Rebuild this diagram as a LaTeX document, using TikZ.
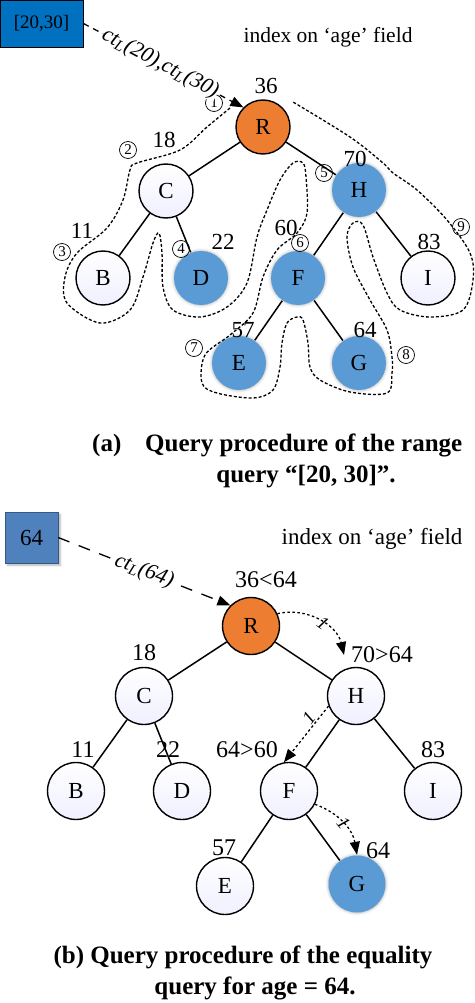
\documentclass[tikz,border=0pt]{standalone}
\usepackage{fontspec}
\setmainfont{Liberation Serif}
\usetikzlibrary{arrows.meta,shadows.blur}

\definecolor{laranja}{RGB}{237,125,49}
\definecolor{azulno}{RGB}{91,155,213}
\definecolor{azulcaixa}{RGB}{0,112,192}
\definecolor{azulcaixab}{RGB}{79,129,189}

\tikzset{
    nobase/.style={circle, draw, line width=1.4pt, minimum size=54pt, inner sep=0pt,
        font=\fontsize{23}{25}\selectfont},
    no/.style={nobase, top color=white, bottom color=blue!6!white},
    noazul/.style={nobase, draw=none, fill=azulno, blur shadow={shadow xshift=0pt,
        shadow yshift=0pt, shadow blur radius=3pt, shadow opacity=35}},
    noraiz/.style={nobase, fill=laranja},
    aresta/.style={line width=1.5pt},
    rotulo/.style={font=\fontsize{23}{25}\selectfont, inner sep=0pt},
    passo/.style={circle, draw, line width=0.7pt, minimum size=17pt, inner sep=0pt,
        font=\fontsize{15}{15}\selectfont},
    legenda/.style={font=\bfseries\fontsize{25}{28}\selectfont, inner sep=0pt},
    tour/.style={line width=1.3pt, dash pattern=on 3pt off 2pt},
    busca/.style={line width=1.3pt, dash pattern=on 2.5pt off 2.5pt, -{Triangle[length=13pt,width=10pt]}},
    peso/.style={font=\itshape\fontsize{19}{20}\selectfont, inner sep=1pt}
}

\begin{document}
\begin{tikzpicture}[x=1pt, y=-1pt]

    \useasboundingbox (0,0) rectangle (474,1003);

    % 1. Parte (a): consulta por intervalo [20,30]
    \node[draw, thick, fill=azulcaixa, minimum width=83pt, minimum height=47pt,
        inner sep=0pt, font=\fontsize{19}{20}\selectfont] (qa) at (41.5,23.5) {[20,30]};
    \node[font=\fontsize{21.5}{22}\selectfont] (idxa) at (328,37) {index on ‘age’ field};

    \node[noraiz] (Ra) at (263,127) {R};
    \node[no] (Ca) at (166,191) {C};
    \node[noazul] (Ha) at (359,190) {H};
    \node[no] (Ba) at (103,278) {B};
    \node[noazul] (Da) at (201,278) {D};
    \node[noazul] (Fa) at (298,278) {F};
    \node[no] (Ia) at (428,278) {I};
    \node[noazul] (Ea) at (239,363) {E};
    \node[noazul] (Ga) at (359,363) {G};

    \draw[aresta] (Ra) -- (Ca) (Ra) -- (Ha) (Ca) -- (Ba) (Ca) -- (Da)
        (Ha) -- (Fa) (Ha) -- (Ia) (Fa) -- (Ea) (Fa) -- (Ga);

    % chaves dos nós
    \node[rotulo] (ka1) at (266,86) {36};
    \node[rotulo] (ka2) at (164,140) {18};
    \node[rotulo] (ka3) at (355,159) {70};
    \node[rotulo] (ka4) at (82,231) {11};
    \node[rotulo] (ka5) at (223,242) {22};
    \node[rotulo] (ka6) at (286,228) {60};
    \node[rotulo] (ka7) at (429,242) {83};
    \node[rotulo] (ka8) at (243,330) {57};
    \node[rotulo] (ka9) at (365,330) {64};

    % ordem de visita (números circulados)
    \node[passo] (p1) at (214,103) {1};
    \node[passo] (p2) at (128,150) {2};
    \node[passo] (p3) at (62,252) {3};
    \node[passo] (p4) at (181,249) {4};
    \node[passo] (p5) at (324,173) {5};
    \node[passo] (p6) at (300,243) {6};
    \node[passo] (p7) at (194,348) {7};
    \node[passo] (p8) at (406,355) {8};
    \node[passo] (p9) at (461,227) {9};

    % contorno pontilhado do percurso
    \draw[tour] plot[smooth, tension=0.55] coordinates {
        (230,108) (207,127) (180,150) (137,163) (130,170) (123,200) (107,228)
        (77,253) (65,277) (67,303) (100,323) (130,310) (143,277) (153,243)
        (159,233) (162,253) (163,287) (173,310) (200,317) (227,307) (247,283)
        (257,237) (267,210) (280,180) (293,163) (303,163) (306,177) (307,213)
        (297,233) (277,250) (263,277) (253,313) (230,335) (205,355) (202,383)
        (217,393) (253,398) (273,390) (280,367) (282,343) (287,323) (297,317)
        (303,320) (308,343) (310,367) (320,380) (350,392) (387,393) (392,373)
        (392,357) (387,330) (370,300) (353,267) (347,237) (353,223) (363,225)
        (373,257) (387,293) (400,310) (430,317) (463,310) (473,280) (470,253)
        (447,220) (417,190) (393,173) (383,163) (350,137) (293,102)};

    % seta da consulta
    \draw[busca, dash pattern=on 6pt off 5pt] (qa.east) -- node[sloped, fill=white, inner sep=0pt, pos=0.48,
        font=\itshape\fontsize{22}{24}\selectfont] (tra) {ct\textsubscript{L}(20),ct\textsubscript{L}(30)} (Ra.north west);

    \node[legenda, anchor=west] (leg1a) at (92,445) {(a)};
    \node[legenda, anchor=west] (leg2a) at (145,445) {Query procedure of the range};
    \node[legenda] (leg3a) at (306,477) {query “[20, 30]”.};

    % 2. Parte (b): consulta por igualdade age = 64
    \node[draw=azulcaixab!70!black, fill=azulcaixab, minimum width=53pt, minimum height=51pt,
        inner sep=0pt, font=\fontsize{23}{24}\selectfont, blur shadow={shadow blur radius=2pt,
        shadow opacity=30}] (qb) at (31.5,537.5) {64};
    \node[font=\fontsize{23}{24}\selectfont] (idxb) at (372,539) {index on ‘age’ field};

    \node[noraiz, minimum size=57pt] (Rb) at (251,626) {R};
    \node[no, minimum size=57pt] (Cb) at (144,696) {C};
    \node[no, minimum size=57pt] (Hb) at (356,696) {H};
    \node[no, minimum size=57pt] (Bb) at (76,791) {B};
    \node[no, minimum size=57pt] (Db) at (182,791) {D};
    \node[no, minimum size=57pt] (Fb) at (289,791) {F};
    \node[no, minimum size=57pt] (Ib) at (433,791) {I};
    \node[no, minimum size=57pt] (Eb) at (225,886) {E};
    \node[noazul, minimum size=57pt] (Gb) at (357,884) {G};

    \draw[aresta] (Rb) -- (Cb) (Rb) -- (Hb) (Cb) -- (Bb) (Cb) -- (Db)
        (Hb) -- (Fb) (Hb) -- (Ib) (Fb) -- (Eb) (Fb) -- (Gb);

    \node[rotulo, font=\fontsize{24}{26}\selectfont] (kb1) at (266,580) {36<64};
    \node[rotulo, font=\fontsize{24}{26}\selectfont] (kb2) at (144,653) {18};
    \node[rotulo, font=\fontsize{24}{26}\selectfont] (kb3) at (382,655) {70>64};
    \node[rotulo, font=\fontsize{24}{26}\selectfont] (kb4) at (83,750) {11};
    \node[rotulo, font=\fontsize{24}{26}\selectfont] (kb5) at (168,750) {22};
    \node[rotulo, font=\fontsize{24}{26}\selectfont] (kb6) at (247,750) {64>60};
    \node[rotulo, font=\fontsize{24}{26}\selectfont] (kb7) at (433,750) {83};
    \node[rotulo, font=\fontsize{24}{26}\selectfont] (kb8) at (224,848) {57};
    \node[rotulo, font=\fontsize{24}{26}\selectfont] (kb9) at (378,851) {64};

    \draw[busca, dash pattern=on 12pt off 10pt] (qb.east) -- node[sloped, fill=white, inner sep=1pt,
        font=\itshape\fontsize{22}{24}\selectfont] (trb) {ct\textsubscript{L}(64)} (Rb.north west);

    % passos da busca por igualdade
    \draw[busca] (Rb.25) to[bend left=45] node[peso, sloped, pos=0.55] {1} ([xshift=-7pt]kb3.west);
    \draw[busca] (Hb.200) -- node[peso, sloped, above, pos=0.3] {1} (Fb.100);
    \draw[busca] (Fb.-27) to[bend left=30] node[peso, sloped, pos=0.5] {1} (Gb.north);

    \node[legenda] (leg1b) at (243,957) {(b) Query procedure of the equality};
    \node[legenda] (leg2b) at (255,988) {query for age = 64.};

\end{tikzpicture}
\end{document}
